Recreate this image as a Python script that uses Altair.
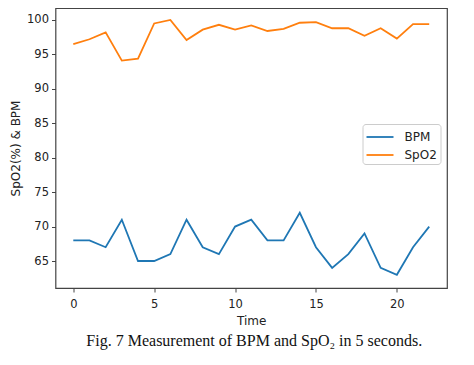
import altair as alt
import pandas as pd

time = list(range(23))
bpm = [68, 68, 67, 71, 65, 65, 66, 71, 67, 66, 70, 71, 68, 68, 72, 67, 64, 66, 69, 64, 63, 67, 70]
spo2 = [96.5, 97.2, 98.2, 94.1, 94.4, 99.5, 100.0, 97.1, 98.6, 99.3, 98.6, 99.2, 98.4, 98.7,
        99.6, 99.7, 98.8, 98.8, 97.7, 98.8, 97.3, 99.4, 99.4]
series = ["BPM", "SpO2"]
colors = ["#1f77b4", "#ff7f0e"]
x_ticks = [0, 5, 10, 15, 20]
y_ticks = [65, 70, 75, 80, 85, 90, 95, 100]
caption = "Fig. 7 Measurement of BPM and SpO\u2082 in 5 seconds."

df = pd.concat([
    pd.DataFrame({"Time": time, "value": bpm, "series": series[0]}),
    pd.DataFrame({"Time": time, "value": spo2, "series": series[1]}),
])

sans = "DejaVu Sans"

chart = alt.Chart(df).mark_line(strokeWidth=1.8, clip=True).encode(
    x=alt.X("Time:Q",
            scale=alt.Scale(domain=[-1.1, 23.1], nice=False, zero=False),
            axis=alt.Axis(values=x_ticks, title="Time", grid=False, format="d",
                          labelPadding=6, titlePadding=6)),
    y=alt.Y("value:Q",
            scale=alt.Scale(domain=[61.08, 101.74], nice=False, zero=False),
            axis=alt.Axis(values=y_ticks, title="SpO2(%) & BPM", grid=False, format="d",
                          labelPadding=3, titlePadding=4)),
    color=alt.Color("series:N",
                    scale=alt.Scale(domain=series, range=colors),
                    legend=alt.Legend(title=None, orient="none", legendX=307, legendY=116,
                                      symbolType="M-1,0H2", symbolSize=324, symbolStrokeWidth=1.8,
                                      labelFontSize=12, labelFont=sans, labelColor="#222",
                                      labelOffset=19, rowPadding=2, padding=3,
                                      strokeColor="#cccccc", cornerRadius=3,
                                      fillColor="white")),
).properties(
    width=391.5,
    height=280,
    padding={"left": 47.5, "top": 0, "right": 19, "bottom": 69},
    autosize=alt.AutoSizeParams(type="none"),
    title=alt.TitleParams(text=caption, orient="bottom", anchor="middle", font="Liberation Serif",
                          fontSize=16, fontWeight="normal", color="#111", offset=6, dx=3),
).configure_view(
    stroke="#444", strokeWidth=1.2
).configure_axis(
    labelFont=sans, labelFontSize=11.5, labelColor="#222",
    titleFont=sans, titleFontSize=12, titleFontWeight="normal", titleColor="#222",
    tickColor="#444", tickSize=4, domain=False,
)

chart.save("out.html", embed_options={"renderer": "svg", "actions": False})
